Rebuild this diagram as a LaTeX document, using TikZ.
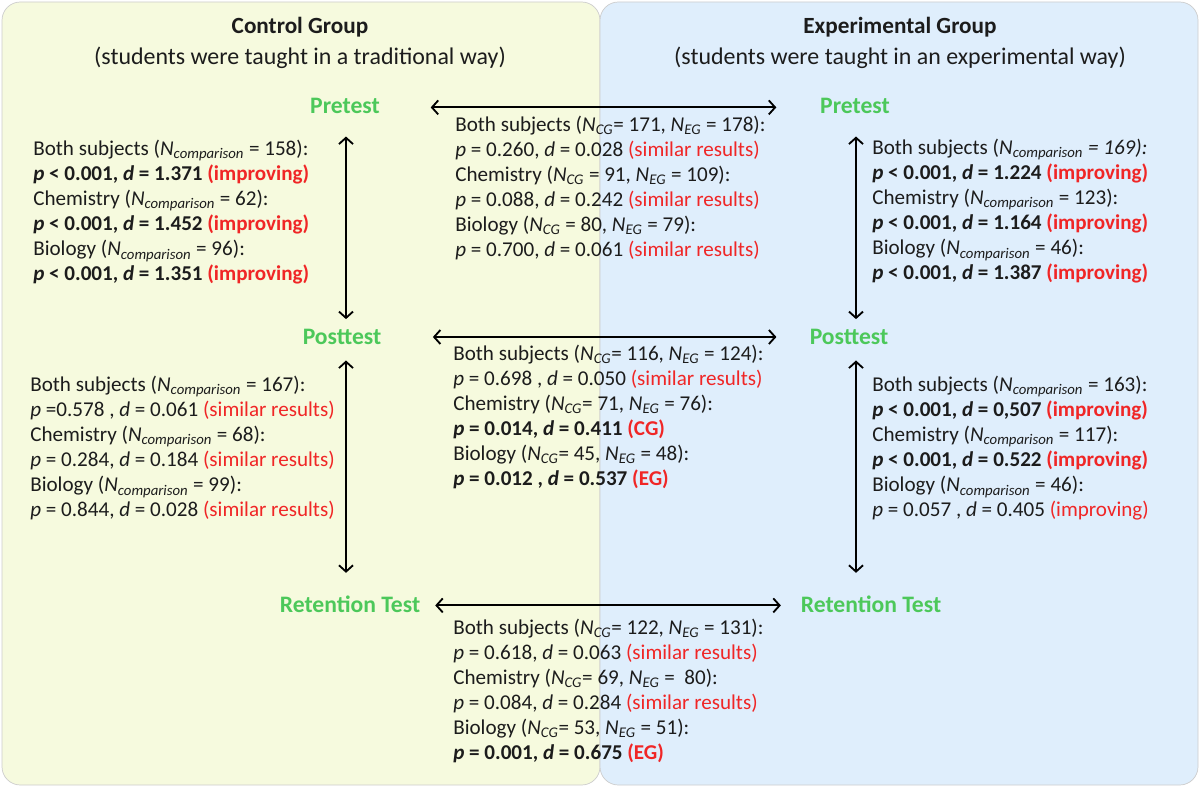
\documentclass[tikz,border=0pt]{standalone}
\usepackage{fontspec}
\setmainfont{Carlito}
\usetikzlibrary{arrows.meta}
\definecolor{cgfill}{RGB}{246,250,222}
\definecolor{egfill}{RGB}{223,238,252}
\definecolor{stagegreen}{RGB}{76,200,90}
\definecolor{resred}{RGB}{240,38,38}
\definecolor{txt}{RGB}{28,28,28}
\newcommand{\pv}{\textit{p}}
\newcommand{\dv}{\textit{d}}
\newcommand{\Ncmp}{\textit{N}\textsubscript{\textit{comparison}}}
\newcommand{\Ncg}{\textit{N}\textsubscript{\textit{CG}}}
\newcommand{\Neg}{\textit{N}\textsubscript{\textit{EG}}}
\newcommand{\simres}{\textcolor{resred}{(similar results)}}
\newcommand{\impr}{\textcolor{resred}{(improving)}}
\begin{document}
\begin{tikzpicture}[x=0.025cm,y=-0.025cm,
	panel/.style={draw=black!20,line width=0.5pt,rounded corners=13pt},
	head/.style={text=txt,font=\fontsize{17}{22}\selectfont,align=center},
	stage/.style={text=stagegreen,font=\bfseries\fontsize{16.8}{18}\selectfont,inner sep=2pt},
	stats/.style={text=txt,align=left,anchor=north west,inner sep=0pt,font=\fontsize{15}{17.8}\selectfont},
	link/.style={line width=1.3pt,{Straight Barb[length=4.5pt,width=10pt]}-{Straight Barb[length=4.5pt,width=10pt]}}]
	\useasboundingbox (0,0) rectangle (1200,787);
	\draw[panel,fill=cgfill] (2,2) rectangle (600,785);
	\draw[panel,fill=egfill] (600,2) rectangle (1198,785);
	\node[head] (cg) at (300,43) {\textbf{\fontsize{16.5}{22}\selectfont Control Group}\\(students were taught in a traditional way)};
	\node[head] (eg) at (900,43) {\textbf{\fontsize{16.5}{22}\selectfont Experimental Group}\\(students were taught in an experimental way)};
	\node[stage] (preL) at (345,106) {Pretest};
	\node[stage] (preR) at (855,106) {Pretest};
	\node[stage] (postL) at (342,337) {Posttest};
	\node[stage] (postR) at (849,337) {Posttest};
	\node[stage] (retL) at (350,604) {Retention Test};
	\node[stage] (retR) at (871,604) {Retention Test};
	\draw[link] ([xshift=34pt,yshift=-1pt]preL.east) -- ([xshift=-29pt,yshift=-1pt]preR.west);
	\draw[link] ([xshift=34.5pt]postL.east) -- ([xshift=-21.5pt]postR.west);
	\draw[link] ([xshift=8.5pt,yshift=-1pt]retL.east) -- ([xshift=-12pt,yshift=-1pt]retR.west);
	\draw[link,shorten <=14pt,shorten >=5pt] ([xshift=0.7pt]preL.south) -- ([xshift=0.7pt]preL.south |- postL.north);
	\draw[link,shorten <=9pt,shorten >=14pt] ([xshift=0.7pt]preL.south |- postL.south) -- ([xshift=0.7pt]preL.south |- retL.north);
	\draw[link,shorten <=14pt,shorten >=5pt] ([xshift=0.7pt]preR.south) -- ([xshift=0.7pt]preR.south |- postR.north);
	\draw[link,shorten <=9pt,shorten >=14pt] ([xshift=0.7pt]preR.south |- postR.south) -- ([xshift=0.7pt]preR.south |- retR.north);
	\node[stats] (cgPrePost) at (33,140) {Both subjects (\Ncmp{} = 158):\\
		\textbf{\pv{} < 0.001, \dv{} = 1.371 \impr}\\
		Chemistry (\Ncmp{} = 62):\\
		\textbf{\pv{} < 0.001, \dv{} = 1.452 \impr}\\
		Biology (\Ncmp{} = 96):\\
		\textbf{\pv{} < 0.001, \dv{} = 1.351 \impr}};
	\node[stats] (prePre) at (455,116) {Both subjects (\Ncg= 171, \Neg{} = 178):\\
		\pv{} = 0.260, \dv{} = 0.028 \simres\\
		Chemistry (\Ncg{} = 91, \Neg{} = 109):\\
		\pv{} = 0.088, \dv{} = 0.242 \simres\\
		Biology (\Ncg{} = 80, \Neg{} = 79):\\
		\pv{} = 0.700, \dv{} = 0.061 \simres};
	\node[stats] (egPrePost) at (872,139) {Both subjects (\Ncmp{} \textit{= 169):}\\
		\textbf{\pv{} < 0.001, \dv{} = 1.224 \impr}\\
		Chemistry (\Ncmp{} = 123):\\
		\textbf{\pv{} < 0.001, \dv{} = 1.164 \impr}\\
		Biology (\Ncmp{} = 46):\\
		\textbf{\pv{} < 0.001, \dv{} = 1.387 \impr}};
	\node[stats] (cgPostRet) at (30,376) {Both subjects (\Ncmp{} = 167):\\
		\pv{} =0.578 , \dv{} = 0.061 \simres\\
		Chemistry (\Ncmp{} = 68):\\
		\pv{} = 0.284, \dv{} = 0.184 \simres\\
		Biology (\Ncmp{} = 99):\\
		\pv{} = 0.844, \dv{} = 0.028 \simres};
	\node[stats] (postPost) at (453,345) {Both subjects (\Ncg= 116, \Neg{} = 124):\\
		\pv{} = 0.698 , \dv{} = 0.050 \simres\\
		Chemistry (\Ncg= 71, \Neg{} = 76):\\
		\textbf{\pv{} = 0.014, \dv{} = 0.411 \textcolor{resred}{(CG)}}\\
		Biology (\Ncg= 45, \Neg{} = 48):\\
		\textbf{\pv{} = 0.012 , \dv{} = 0.537 \textcolor{resred}{(EG)}}};
	\node[stats] (egPostRet) at (872,376) {Both subjects (\Ncmp{} = 163):\\
		\textbf{\pv{} < 0.001, \dv{} = 0,507 \impr}\\
		Chemistry (\Ncmp{} = 117):\\
		\textbf{\pv{} < 0.001, \dv{} = 0.522 \impr}\\
		Biology (\Ncmp{} = 46):\\
		\pv{} = 0.057 , \dv{} = 0.405 \impr};
	\node[stats] (retRet) at (453,619) {Both subjects (\Ncg= 122, \Neg{} = 131):\\
		\pv{} = 0.618, \dv{} = 0.063 \simres\\
		Chemistry (\Ncg= 69, \Neg{} =~~80):\\
		\pv{} = 0.084, \dv{} = 0.284 \simres\\
		Biology (\Ncg= 53, \Neg{} = 51):\\
		\textbf{\pv{} = 0.001, \dv{} = 0.675 \textcolor{resred}{(EG)}}};
\end{tikzpicture}
\end{document}
